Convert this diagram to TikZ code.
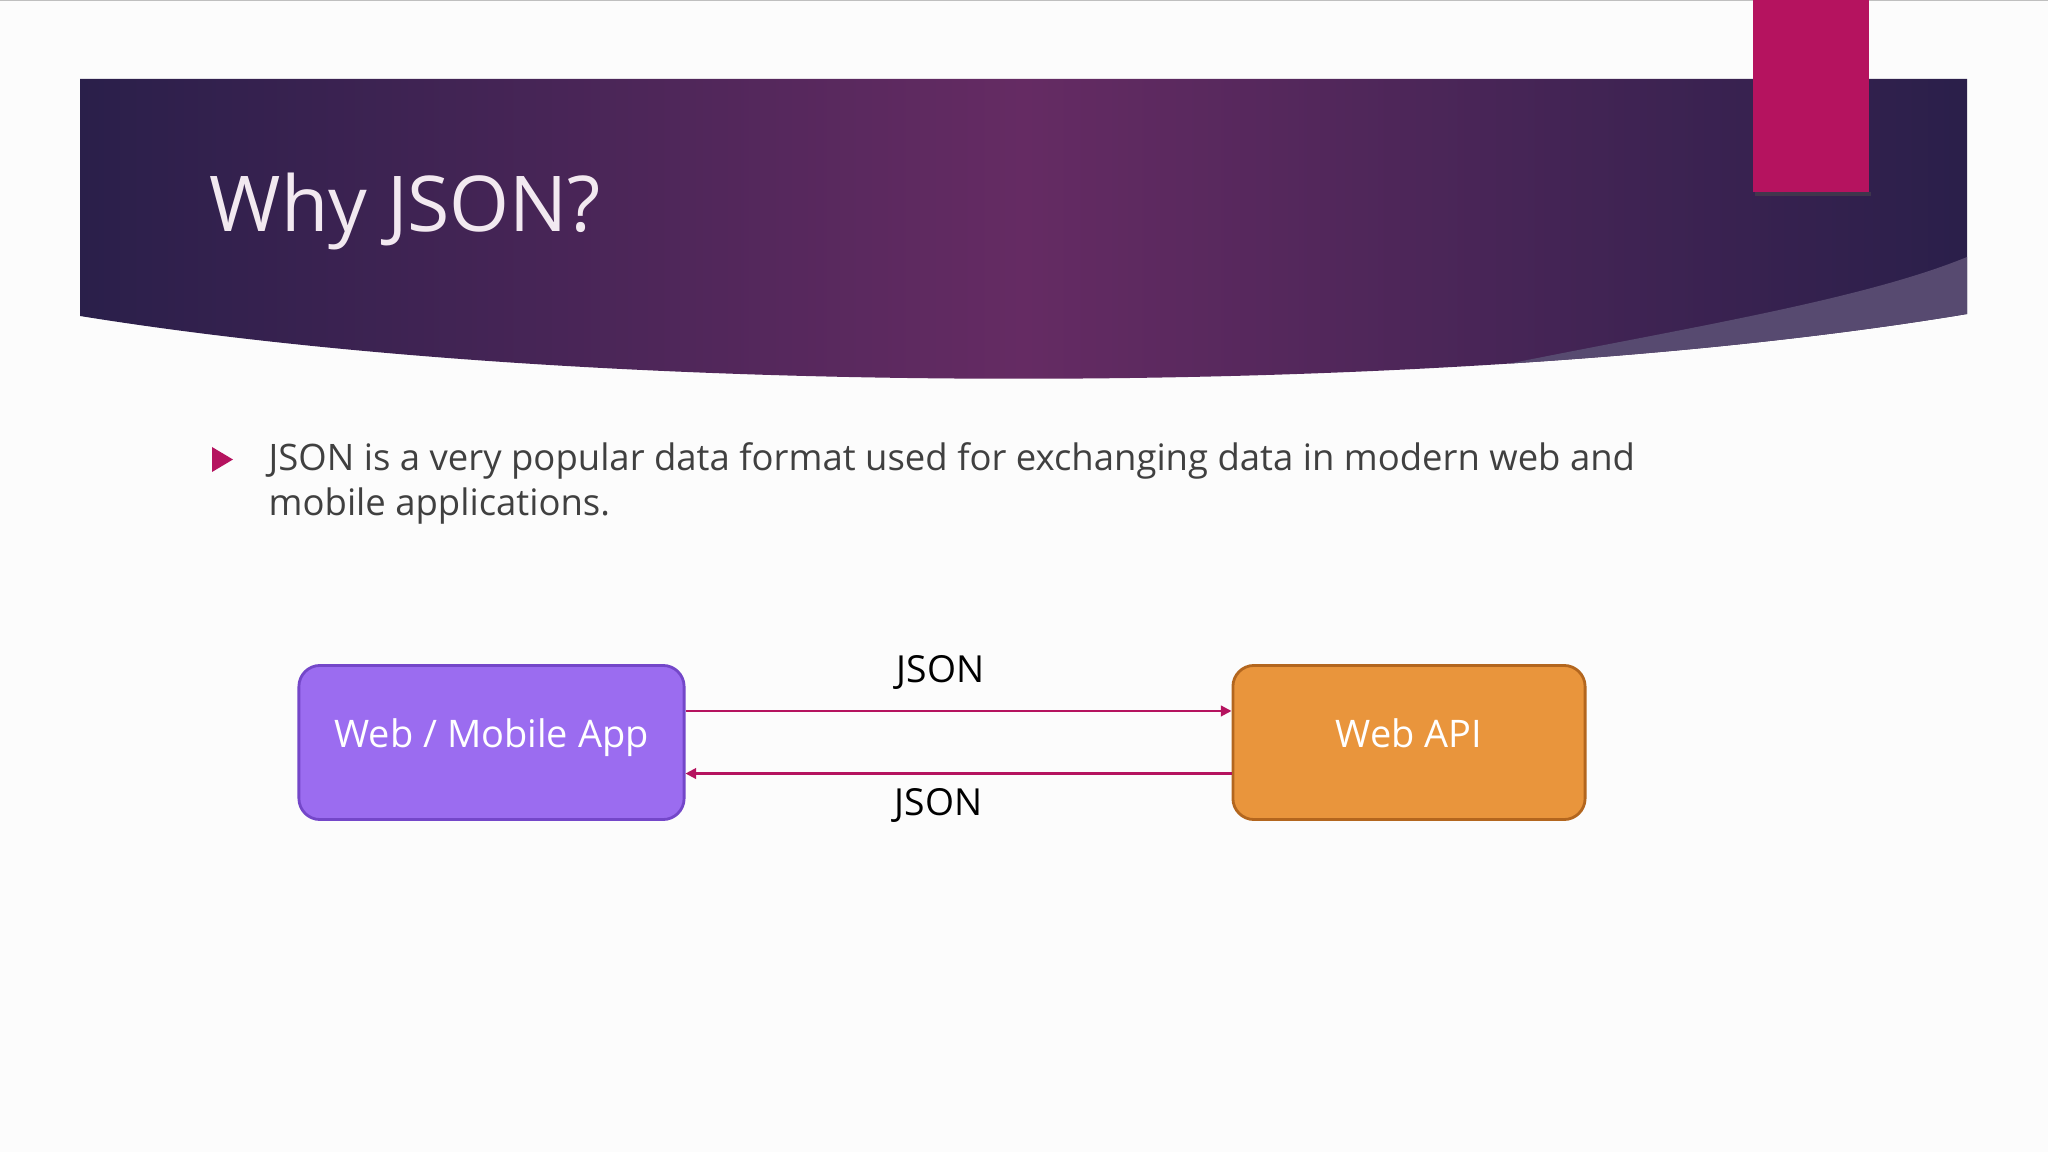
\documentclass[tikz,border=0pt]{standalone}
\usepackage{fontspec}
\setmainfont{Open Sans}
\usetikzlibrary{arrows.meta,positioning}
\definecolor{pagebg}{HTML}{FCFCFC}
\definecolor{appfill}{HTML}{9B6CF0}
\definecolor{appline}{HTML}{7447C9}
\definecolor{apifill}{HTML}{E9953C}
\definecolor{apiline}{HTML}{B3661E}
\definecolor{accent}{HTML}{B5135F}
\definecolor{hdark}{HTML}{2A1F4A}
\definecolor{hmid}{HTML}{652B63}
\definecolor{wedge}{HTML}{574A70}
\definecolor{bodytext}{HTML}{404040}
\definecolor{titletext}{HTML}{F2E9F0}
\begin{document}
\begin{tikzpicture}[x=0.01cm, y=-0.01cm,
    box/.style = {rounded corners=6pt, line width=0.8pt, minimum height=1.54cm,
                  text=white, text height=8pt, text depth=5.4pt,
                  font=\fontsize{10.8}{12}\selectfont},
    link/.style = {accent, line width=0.6pt, -{Triangle[length=3pt,width=3pt]}},
    lbl/.style = {inner sep=0pt, text=black, font=\fontsize{10.6}{12}\selectfont}]
  \useasboundingbox (0,0) rectangle (2048,1152);
  \fill[pagebg] (0,0) rectangle (2048,1152);
  \draw[black!25, line width=0.5pt] (0,0.5) -- (2048,0.5);

  % header band
  \def\band{(80,79) -- (1967,79) -- (1967,314) .. controls (1450,400) and (600,400) .. (80,316) -- cycle}
  \path[left color=hdark, right color=hdark, middle color=hmid] \band;
  \begin{scope}
    \clip \band;
    \fill[wedge] (1440,378) .. controls (1640,335) and (1850,305) .. (1967,257) -- (1967,440) -- (1440,440) -- cycle;
  \end{scope}
  \fill[black!70, opacity=0.5] (1755,192) rectangle (1871,196);
  \fill[accent] (1753,0) rectangle (1869,192);
  \node[anchor=base west, inner sep=0pt, text=titletext,
        font=\fontsize{21.9}{26}\selectfont] (title) at (209,232) {Why JSON?};

  % bullet
  \fill[accent] (212,447) -- (233,459.5) -- (212,472) -- cycle;
  \node[anchor=base west, inner sep=0pt, align=left, text=bodytext,
        font=\fontsize{10.37}{12.8}\selectfont] (intro) at (268,516)
    {JSON is a very popular data format used for exchanging data in modern web and\\
     mobile applications.};

  % client and server
  \node[box, fill=appfill, draw=appline, minimum width=3.85cm] (app) at (491.5,742.5) {Web / Mobile App};
  \node[box, fill=apifill, draw=apiline, minimum width=3.52cm] (api) at (1409,742.5) {Web API};

  \draw[link] ([yshift=0.315cm]app.east) -- ([yshift=0.315cm]api.west)
    node[lbl, midway, above=0.2cm, xshift=-0.18cm] (req) {JSON};
  \draw[link] ([yshift=-0.31cm]api.west) -- ([yshift=-0.31cm]app.east)
    node[lbl, midway, below=0.14cm, xshift=-0.2cm] (res) {JSON};
\end{tikzpicture}
\end{document}
